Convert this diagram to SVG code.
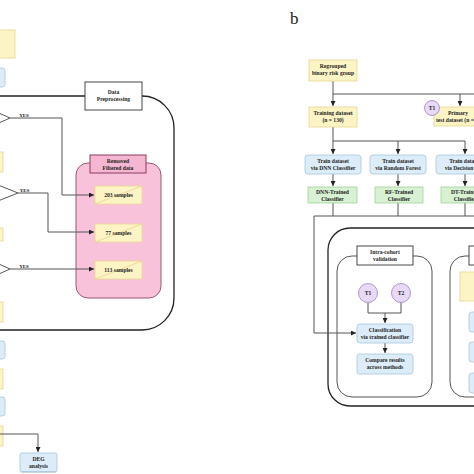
<svg xmlns="http://www.w3.org/2000/svg" width="474" height="474" viewBox="0 0 474 474">
<defs>
<marker id="ar" markerUnits="userSpaceOnUse" markerWidth="5" markerHeight="5" viewBox="0 0 6 6" refX="6" refY="3" orient="auto">
<path d="M0,0 L6,3 L0,6 z" fill="#222"/>
</marker>
<style>
text{font-family:"Liberation Serif","Times New Roman",serif;font-weight:bold;font-size:5.6px;fill:#222;text-anchor:middle}
.y{fill:#fdf4c6;stroke:#e6d68f;stroke-width:0.8}
.bl{fill:#dcedf9;stroke:#a6c6de;stroke-width:0.8}
.gr{fill:#d8f1d2;stroke:#a2d39b;stroke-width:0.8}
.hd{fill:#fff;stroke:#333;stroke-width:0.9}
.ci{fill:#e8d9f6;stroke:#9d80c6;stroke-width:0.8}
.ln{fill:none;stroke:#555;stroke-width:1}
.ct{fill:none;stroke:#222;stroke-width:1.3}
.ic{fill:none;stroke:#555;stroke-width:1}
.dm{fill:#fff;stroke:#444;stroke-width:0.9}
.dg{stroke:#e2c878;stroke-width:0.6}
</style>
</defs>
<rect width="474" height="474" fill="#fff"/>

<!-- Panel a -->
<g id="containerA">
<path class="ct" d="M -10 96 H 85"/>
<path class="ct" d="M 142 96 A 32 32 0 0 1 174 128 V 298 A 32 32 0 0 1 142 330 H -10"/>
</g>
<g id="dataPreprocessing">
<rect class="hd" x="85" y="82" width="57" height="28"/>
<text x="113.5" y="94">Data</text>
<text x="113.5" y="101">Preprocessing</text>
</g>
<g id="a_top_yellow"><rect class="y" x="-5" y="30" width="20" height="28"/></g>
<g id="a_top_blue"><rect class="bl" x="-10" y="68" width="15" height="19" rx="3"/></g>
<g id="a_diamond1"><polygon class="dm" points="10,118 -30,100 -70,118 -30,136"/></g>
<g id="a_diamond2"><polygon class="dm" points="18,193 -22,177 -62,193 -22,209"/></g>
<g id="a_diamond3"><polygon class="dm" points="10,269 -30,251 -70,269 -30,287"/></g>
<g id="a_left_boxes">
<rect class="y" x="-20" y="152" width="23" height="20"/>
<rect class="y" x="-20" y="228" width="23" height="13"/>
<rect class="y" x="-20" y="302" width="23" height="20"/>
<rect class="bl" x="-20" y="341" width="25" height="18" rx="3"/>
<rect class="y" x="-20" y="369" width="23" height="20"/>
<rect class="bl" x="-20" y="397" width="25" height="19" rx="3"/>
<rect class="y" x="-20" y="426" width="23" height="20"/>
</g>
<g id="removedFiltered">
<rect x="76" y="163" width="85" height="135" rx="12" fill="#f8c3da" stroke="#9c5775" stroke-width="1"/>
<rect x="90" y="155" width="56" height="18" fill="#f4b6d0" stroke="#8c3d60" stroke-width="1"/>
<text x="118" y="162.5">Removed</text>
<text x="118" y="169.5">Filtered data</text>
</g>
<g id="s203">
<rect class="y" x="95" y="186" width="47" height="18"/>
<line class="dg" x1="95" y1="204" x2="142" y2="186"/>
<text x="118.5" y="197">203 samples</text>
</g>
<g id="s77">
<rect class="y" x="95" y="224" width="47" height="18"/>
<line class="dg" x1="95" y1="242" x2="142" y2="224"/>
<text x="118.5" y="235">77 samples</text>
</g>
<g id="s113">
<rect class="y" x="95" y="261" width="47" height="18"/>
<line class="dg" x1="95" y1="279" x2="142" y2="261"/>
<text x="118.5" y="272">113 samples</text>
</g>
<g id="deg">
<rect x="20" y="454" width="37" height="19" rx="2" fill="#c7d8e6"/>
<rect class="bl" x="20" y="453" width="37" height="18.5" rx="2"/>
<text x="38.5" y="461">DEG</text>
<text x="38.5" y="468">analysis</text>
</g>

<!-- Panel b -->
<text x="290" y="24" style="font-weight:normal;font-size:17px;text-anchor:start">b</text>
<g id="bigContainerB">
<path class="ct" d="M 480 228 H 350 A 22 22 0 0 0 328 250 V 384 A 22 22 0 0 0 350 406 H 480"/>
</g>
<g id="intraCohort">
<rect class="ic" x="337" y="256" width="95" height="141" rx="15"/>
<rect class="hd" x="357" y="246" width="56" height="19"/>
<text x="385" y="254">Intra-cohort</text>
<text x="385" y="261">validation</text>
</g>
<g id="secondCohort">
<rect class="ic" x="450" y="256" width="100" height="141" rx="15"/>
<rect class="hd" x="469" y="246" width="56" height="19"/>
<rect class="y" x="460" y="272" width="60" height="29"/>
<rect class="bl" x="469" y="312" width="56" height="20" rx="3"/>
<rect class="bl" x="469" y="342" width="56" height="20" rx="3"/>
<rect class="bl" x="469" y="373" width="56" height="20" rx="3"/>
</g>

<g id="connectors">
<path class="ln" d="M 10 118 H 62 V 195 H 94" marker-end="url(#ar)"/>
<path class="ln" d="M 18 193 H 48 V 232 H 94" marker-end="url(#ar)"/>
<path class="ln" d="M 10 269 H 94" marker-end="url(#ar)"/>
<path class="ln" d="M -5 434 H 38 V 452" marker-end="url(#ar)"/>
<path class="ln" d="M 333 81 V 106" marker-end="url(#ar)"/>
<path class="ln" d="M 333 94 H 480"/>
<path class="ln" d="M 460 94 V 106" marker-end="url(#ar)"/>
<path class="ln" d="M 333 127 V 154" marker-end="url(#ar)"/>
<path class="ln" d="M 333 141 H 465 V 154" marker-end="url(#ar)"/>
<path class="ln" d="M 398 141 V 154" marker-end="url(#ar)"/>
<path class="ln" d="M 333 174 V 186" marker-end="url(#ar)"/>
<path class="ln" d="M 398 174 V 186" marker-end="url(#ar)"/>
<path class="ln" d="M 465 173 V 186" marker-end="url(#ar)"/>
<path class="ln" d="M 333 203 V 216 M 398 203 V 216 M 465 203 V 216"/>
<path class="ln" d="M 480 216 H 314 V 333 H 356" marker-end="url(#ar)"/>
<path class="ln" d="M 368 302.5 V 313 H 401 V 302.5"/>
<path class="ln" d="M 385 313 V 323" marker-end="url(#ar)"/>
<path class="ln" d="M 385 343 V 353" marker-end="url(#ar)"/>
</g>
<g id="yesLabels">
<text x="24" y="116.5" style="font-size:5px">YES</text>
<text x="24.5" y="191.5" style="font-size:5px">YES</text>
<text x="24" y="267.5" style="font-size:5px">YES</text>
</g>

<g id="regrouped">
<rect class="y" x="309" y="60" width="48" height="21"/>
<text x="333" y="68">Regrouped</text>
<text x="333" y="75">binary risk group</text>
</g>
<g id="training">
<rect class="y" x="309" y="107" width="48" height="20"/>
<text x="333" y="115">Training dataset</text>
<text x="333" y="122">(n = 130)</text>
</g>
<g id="primary">
<rect class="y" x="434" y="107" width="52" height="19"/>
<text x="458" y="114.5">Primary</text>
<text x="436" y="121.5" style="text-anchor:start">test dataset (n = </text>
</g>
<g id="t1top">
<circle class="ci" cx="432" cy="108" r="7.5"/>
<text x="432" y="110">T1</text>
</g>
<g id="trainDNN">
<rect class="bl" x="305" y="155" width="56" height="19" rx="3"/>
<text x="333" y="163">Train dataset</text>
<text x="333" y="170">via DNN Classifier</text>
</g>
<g id="trainRF">
<rect class="bl" x="370" y="155" width="56" height="19" rx="3"/>
<text x="398" y="163">Train dataset</text>
<text x="398" y="170">via Random Forest</text>
</g>
<g id="trainDT">
<rect class="bl" x="436" y="155" width="58" height="19" rx="3"/>
<text x="465" y="163">Train dataset</text>
<text x="465" y="170">via Decision Tree</text>
</g>
<g id="dnnTrained">
<rect class="gr" x="308" y="187" width="49" height="16"/>
<text x="332.5" y="194">DNN-Trained</text>
<text x="332.5" y="200.5">Classifier</text>
</g>
<g id="rfTrained">
<rect class="gr" x="375" y="187" width="48" height="16"/>
<text x="399" y="194">RF-Trained</text>
<text x="399" y="200.5">Classifier</text>
</g>
<g id="dtTrained">
<rect class="gr" x="441" y="187" width="48" height="16"/>
<text x="465" y="194">DT-Trained</text>
<text x="465" y="200.5">Classifier</text>
</g>
<g id="t1">
<circle class="ci" cx="368" cy="293" r="9.5"/>
<text x="368" y="295">T1</text>
</g>
<g id="t2">
<circle class="ci" cx="401" cy="293" r="9.5"/>
<text x="401" y="295">T2</text>
</g>
<g id="classification">
<rect class="bl" x="357" y="324" width="56" height="19" rx="3"/>
<text x="385" y="332">Classification</text>
<text x="385" y="339">via trained classifier</text>
</g>
<g id="compare">
<rect class="bl" x="357" y="354" width="56" height="20" rx="3"/>
<text x="385" y="362">Compare results</text>
<text x="385" y="369">across methods</text>
</g>
</svg>
